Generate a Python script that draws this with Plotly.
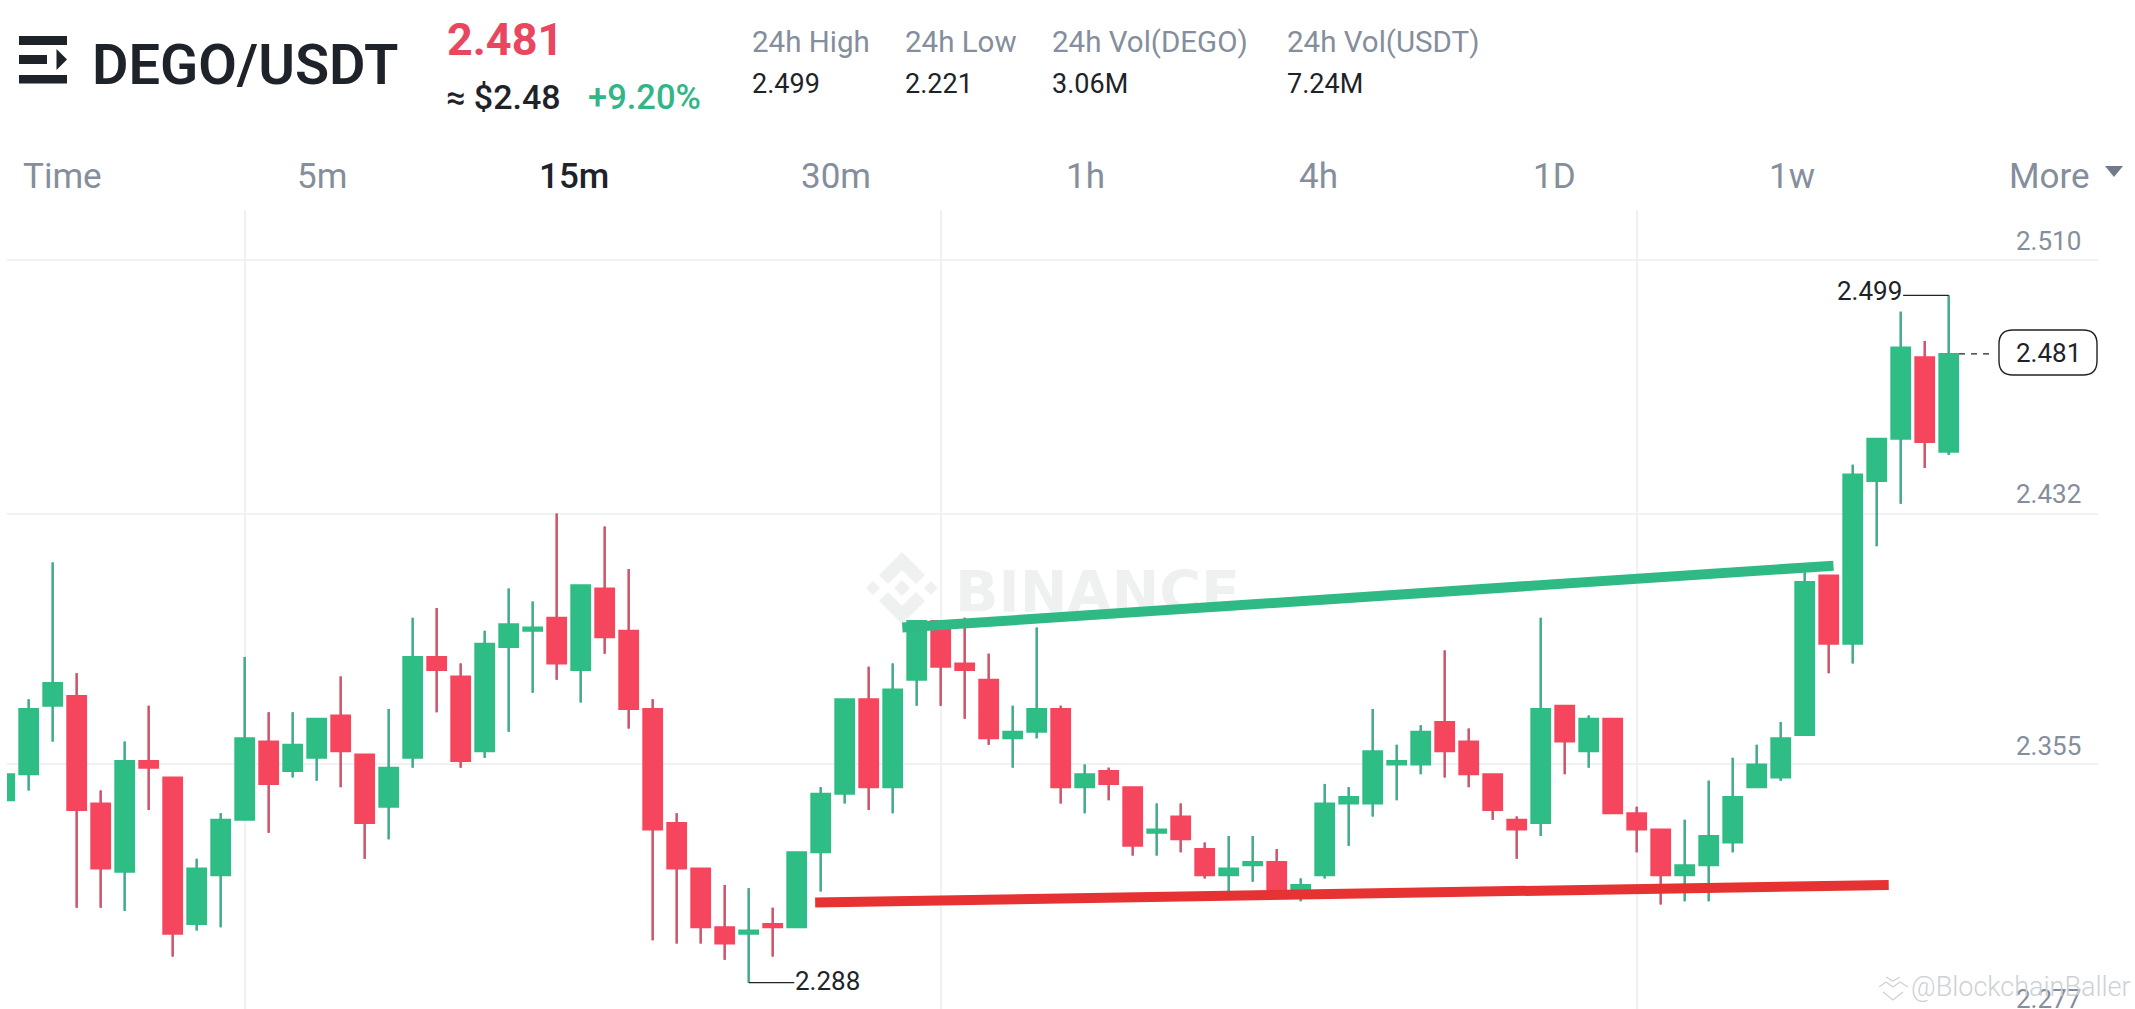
import plotly.graph_objects as go

W, H = 2135, 1009

# 15m candles
opens = [2.344, 2.352, 2.373, 2.376, 2.343, 2.322, 2.356, 2.351, 2.306, 2.321,
         2.338, 2.362, 2.353, 2.357, 2.370, 2.358, 2.342, 2.357, 2.388, 2.382,
         2.359, 2.391, 2.396, 2.400, 2.384, 2.409, 2.396, 2.372, 2.337, 2.323,
         2.305, 2.303, 2.306, 2.305, 2.328, 2.346, 2.375, 2.348, 2.381, 2.399,
         2.386, 2.381, 2.363, 2.365, 2.372, 2.348, 2.353, 2.348, 2.334, 2.339,
         2.329, 2.321, 2.324, 2.325, 2.316, 2.321, 2.343, 2.343, 2.355, 2.355,
         2.368, 2.362, 2.352, 2.338, 2.337, 2.373, 2.359, 2.369, 2.340, 2.335,
         2.321, 2.324, 2.331, 2.348, 2.351, 2.364, 2.413, 2.392, 2.442, 2.455,
         2.480, 2.451]
highs = [2.352, 2.375, 2.417, 2.383, 2.347, 2.362, 2.373, 2.351, 2.326, 2.340,
         2.388, 2.371, 2.371, 2.369, 2.382, 2.358, 2.372, 2.400, 2.403, 2.386,
         2.396, 2.409, 2.405, 2.432, 2.410, 2.428, 2.415, 2.375, 2.340, 2.323,
         2.318, 2.317, 2.311, 2.328, 2.348, 2.375, 2.385, 2.386, 2.399, 2.399,
         2.400, 2.389, 2.373, 2.397, 2.373, 2.355, 2.354, 2.348, 2.343, 2.343,
         2.331, 2.333, 2.333, 2.329, 2.320, 2.349, 2.348, 2.372, 2.361, 2.367,
         2.390, 2.366, 2.352, 2.339, 2.400, 2.373, 2.370, 2.369, 2.342, 2.335,
         2.338, 2.350, 2.357, 2.361, 2.368, 2.414, 2.413, 2.447, 2.455, 2.494,
         2.485, 2.499]
lows = [2.344, 2.347, 2.362, 2.311, 2.311, 2.310, 2.341, 2.296, 2.304, 2.305,
        2.338, 2.334, 2.351, 2.350, 2.348, 2.326, 2.332, 2.354, 2.371, 2.354,
        2.357, 2.365, 2.377, 2.381, 2.374, 2.389, 2.366, 2.301, 2.300, 2.300,
        2.295, 2.288, 2.296, 2.305, 2.316, 2.343, 2.341, 2.340, 2.373, 2.373,
        2.369, 2.361, 2.354, 2.363, 2.343, 2.340, 2.344, 2.327, 2.327, 2.328,
        2.320, 2.315, 2.319, 2.314, 2.313, 2.320, 2.330, 2.339, 2.344, 2.352,
        2.351, 2.348, 2.338, 2.326, 2.333, 2.352, 2.354, 2.340, 2.328, 2.312,
        2.313, 2.313, 2.328, 2.348, 2.350, 2.364, 2.383, 2.386, 2.422, 2.435,
        2.446, 2.450]
closes = [2.352, 2.372, 2.380, 2.341, 2.323, 2.356, 2.354, 2.303, 2.323, 2.338,
          2.363, 2.349, 2.361, 2.369, 2.359, 2.337, 2.354, 2.388, 2.384, 2.356,
          2.392, 2.398, 2.397, 2.386, 2.410, 2.394, 2.372, 2.335, 2.323, 2.305,
          2.300, 2.304, 2.305, 2.328, 2.346, 2.375, 2.348, 2.378, 2.399, 2.385,
          2.384, 2.363, 2.365, 2.372, 2.348, 2.352, 2.349, 2.330, 2.335, 2.332,
          2.321, 2.323, 2.325, 2.314, 2.318, 2.343, 2.345, 2.359, 2.356, 2.365,
          2.359, 2.352, 2.341, 2.335, 2.372, 2.362, 2.369, 2.340, 2.335, 2.321,
          2.324, 2.333, 2.345, 2.355, 2.363, 2.411, 2.392, 2.444, 2.455, 2.483,
          2.454, 2.481]

price_ticks = [2.510, 2.432, 2.355]
price_labels = ["2.510", "2.432", "2.355", "2.277"]
time_ticks = [10, 39, 68]
timeframes = ["Time", "5m", "15m", "30m", "1h", "4h", "1D", "1w", "More"]
stat_names = ["24h High", "24h Low", "24h Vol(DEGO)", "24h Vol(USDT)"]
stat_values = ["2.499", "2.221", "3.06M", "7.24M"]

# drawn trend lines
resistance_x = [37.4, 76.2]
resistance_y = [2.397, 2.416]
support_x = [33.77, 78.5]
support_y = [2.3126, 2.318]

GREEN = "#2EBD85"
RED = "#F6465D"
DARK = "#1E2329"
GREY = "#848E9C"
GRID = "#F0F1F2"
FONT = "Roboto"


def px(x):
    return x / W


def py(y):
    return 1 - y / H


def label(fig, x, y, text, size, color, anchor="left", weight=400):
    fig.add_annotation(x=px(x), y=py(y), xref="paper", yref="paper", text=text,
                       showarrow=False, xanchor=anchor, yanchor="middle", borderpad=0,
                       font=dict(family=FONT, size=size, color=color, weight=weight))


def poly(points):
    return "M" + " L".join(f"{px(a):.5f},{py(b):.5f}" for a, b in points) + " Z"


def solid(fig, points, color, layer="above"):
    fig.add_shape(type="path", path=poly(points), xref="paper", yref="paper",
                  fillcolor=color, line_width=0, layer=layer)


idx = list(range(len(opens)))
fig = go.Figure()
fig.add_trace(go.Candlestick(
    x=idx, open=opens, high=highs, low=lows, close=closes,
    increasing=dict(line=dict(color=GREEN, width=2), fillcolor=GREEN),
    decreasing=dict(line=dict(color=RED, width=2), fillcolor=RED),
    whiskerwidth=0, showlegend=False,
))

# wicks look a bit darker than the bodies
for up, color in [(True, "#45A888"), (False, "#C9566B")]:
    wx, wy = [], []
    for i in idx:
        if (closes[i] >= opens[i]) != up:
            continue
        wx += [i, i, None, i, i, None]
        wy += [highs[i], max(opens[i], closes[i]), None, min(opens[i], closes[i]), lows[i], None]
    fig.add_trace(go.Scatter(x=wx, y=wy, mode="lines", line=dict(color=color, width=2.2),
                             hoverinfo="skip", showlegend=False))

fig.add_trace(go.Scatter(x=resistance_x, y=resistance_y, mode="lines",
                         line=dict(color="#2FB985", width=10), showlegend=False))
fig.add_trace(go.Scatter(x=support_x, y=support_y, mode="lines",
                         line=dict(color="#E63232", width=10), showlegend=False))

# callouts for the high, the low and the last price
low_i = lows.index(min(lows))
high_i = highs.index(max(highs))
fig.add_trace(go.Scatter(x=[low_i, 32.9], y=[lows[low_i]] * 2, mode="lines",
                         line=dict(color=DARK, width=1.2), showlegend=False))
fig.add_trace(go.Scatter(x=[79.1, high_i], y=[highs[high_i]] * 2, mode="lines",
                         line=dict(color=DARK, width=1.2), showlegend=False))
fig.add_trace(go.Scatter(x=[81.43, 82.7], y=[closes[-1]] * 2, mode="lines",
                         line=dict(color=DARK, width=1.2, dash="6px,6px"), showlegend=False))

# header
solid(fig, [(19, 36), (67, 36), (67, 45), (19, 45)], DARK)
solid(fig, [(19, 55), (47, 55), (47, 64), (19, 64)], DARK)
solid(fig, [(56.5, 49), (67, 59.5), (56.5, 70)], DARK)
solid(fig, [(19, 75), (67, 75), (67, 83.5), (19, 83.5)], DARK)
label(fig, 91, 65, "DEGO/USDT", 56, DARK, weight=600)
label(fig, 446, 39, "2.481", 45, "#E8475F", weight=700)
label(fig, 445, 97, "≈ $2.48", 34, DARK, weight=500)
label(fig, 587, 97, "+9.20%", 34.5, "#34B588", weight=500)

for x, name, value in zip([751, 904, 1051, 1286], stat_names, stat_values):
    label(fig, x, 42, name, 29.5, GREY)
    label(fig, x, 84, value, 27, DARK)

for x, name in zip([22, 296, 538, 800, 1065, 1298, 1532, 1768, 2008], timeframes):
    active = name == "15m"
    label(fig, x, 176.5, name, 35, DARK if active else GREY, weight=500 if active else 400)
solid(fig, [(2105, 166), (2123, 166), (2114, 177)], "#707A8A")

# price axis labels sit above their grid lines
for y, text in zip([241.5, 493.5, 746, 998.5], price_labels):
    label(fig, 2082, y, text, 26, GREY, anchor="right")

label(fig, 794, 981, "2.288", 26, DARK)
label(fig, 1903, 291, "2.499", 26, DARK, anchor="right")

# last price box
x0, x1, y0, y1, r = 1999, 2097, 330, 375, 14
fig.add_shape(
    type="path", xref="paper", yref="paper", fillcolor="white",
    line=dict(color=DARK, width=1.4),
    path=(f"M{px(x0 + r)},{py(y0)} L{px(x1 - r)},{py(y0)} Q{px(x1)},{py(y0)} {px(x1)},{py(y0 + r)} "
          f"L{px(x1)},{py(y1 - r)} Q{px(x1)},{py(y1)} {px(x1 - r)},{py(y1)} "
          f"L{px(x0 + r)},{py(y1)} Q{px(x0)},{py(y1)} {px(x0)},{py(y1 - r)} "
          f"L{px(x0)},{py(y0 + r)} Q{px(x0)},{py(y0)} {px(x0 + r)},{py(y0)} Z"),
)
label(fig, 2048, 353, "2.481", 26, DARK, anchor="center")

# BINANCE watermark behind the candles
MARK = "#EFF1F1"
cx, cy = 902, 588
for pts in [
    [(0, -36), (23, -13), (14, -4), (0, -18), (-14, -4), (-23, -13)],
    [(0, 36), (23, 13), (14, 4), (0, 18), (-14, 4), (-23, 13)],
    [(0, -8), (8, 0), (0, 8), (-8, 0)],
    [(-36, 0), (-29, -7), (-22, 0), (-29, 7)],
    [(36, 0), (29, -7), (22, 0), (29, 7)],
]:
    solid(fig, [(cx + a, cy + b) for a, b in pts], MARK, layer="below")
fig.add_shape(type="rect", xref="paper", yref="paper", x0=px(950), x1=px(1245), y0=py(618), y1=py(558),
              line_width=0, layer="below",
              label=dict(text="BINANCE", textposition="middle center",
                         font=dict(family="DejaVu Sans", size=57, color=MARK, weight=700)))

# repost tag in the corner
TAG = "#CDD1D5"
for pts in [[(1879, 987), (1886, 982), (1893, 987), (1900, 982), (1908, 987)],
            [(1886, 977), (1893, 981), (1900, 977)],
            [(1883, 992), (1893, 1000), (1903, 992)]]:
    fig.add_shape(type="path", xref="paper", yref="paper", line=dict(color=TAG, width=1.2),
                  path="M" + " L".join(f"{px(a):.5f},{py(b):.5f}" for a, b in pts))
label(fig, 1910, 987, "@BlockchainBaller", 27, TAG, weight=300)

fig.update_layout(
    width=W, height=H, margin=dict(l=0, r=0, t=0, b=0), autosize=False,
    paper_bgcolor="white", plot_bgcolor="white", showlegend=False,
    boxgap=0.15, boxgroupgap=0.08,
    font=dict(family=FONT),
)
fig.update_xaxes(domain=[px(7), px(2098)], range=[0.097, 87.22], rangeslider_visible=False,
                 tickvals=time_ticks, showticklabels=False, showgrid=True, gridcolor=GRID, gridwidth=1.5,
                 zeroline=False, showline=False, ticks="")
fig.update_yaxes(domain=[0, py(210)], range=[2.2799, 2.5252], tickvals=price_ticks, showticklabels=False,
                 showgrid=True, gridcolor=GRID, gridwidth=1.5, zeroline=False, showline=False, ticks="")

fig.write_html("out.html", config=dict(displayModeBar=False),
               post_script="document.body.style.margin='0';")
